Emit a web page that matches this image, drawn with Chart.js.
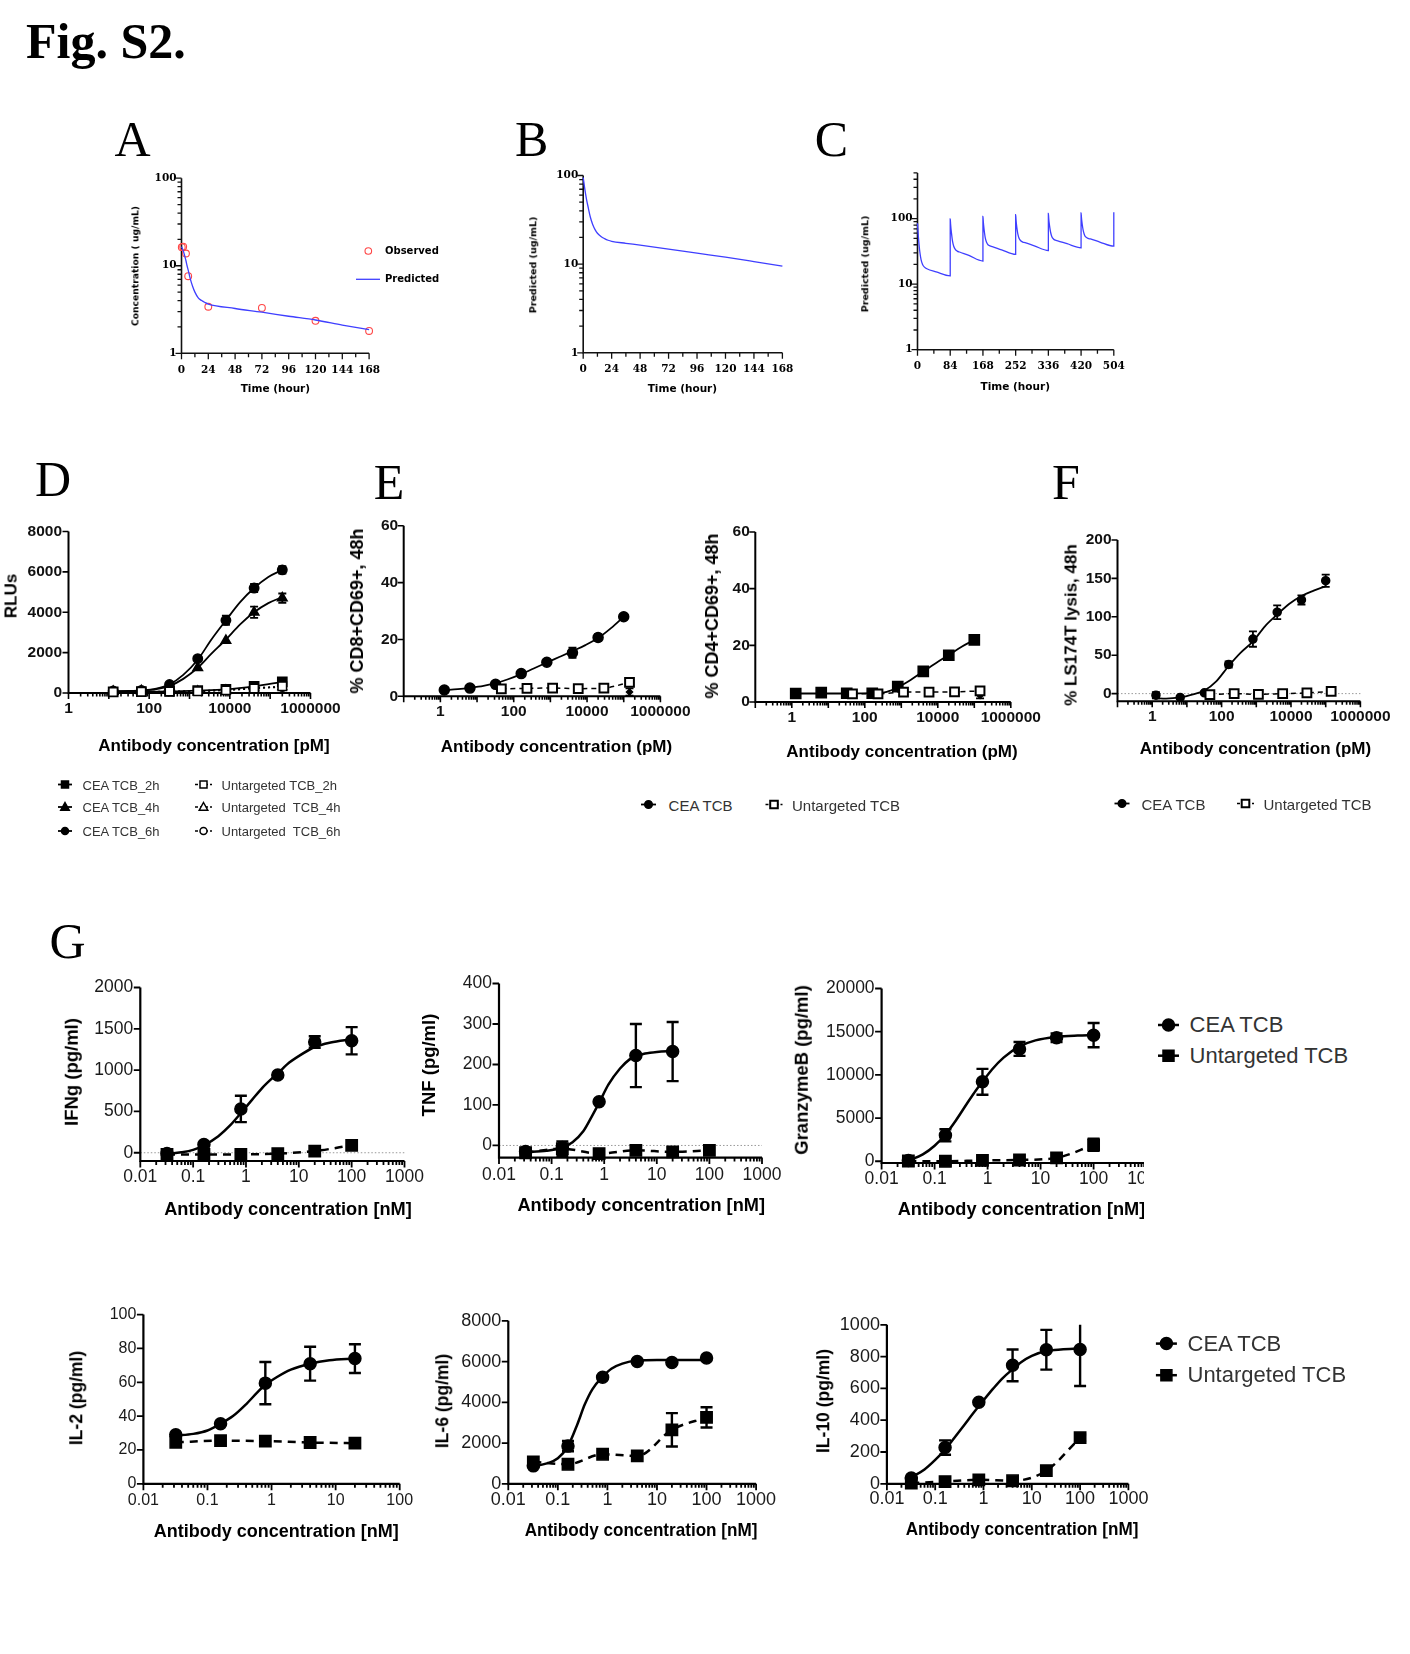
<!DOCTYPE html>
<html>
<head>
<meta charset="utf-8">
<script src="https://cdn.jsdelivr.net/npm/chart.js@4.4.1/dist/chart.umd.min.js"></script>
<style>
  html, body { margin: 0; padding: 0; background: #fff; }
  #page { position: relative; width: 1410px; height: 1654px; overflow: hidden; background: #fff; }
  .t { position: absolute; white-space: pre; line-height: 1; color: #000; }
  canvas { position: absolute; }
</style>
</head>
<body>
<div id="page"></div>
<script>
// ---------- A / B / C : PK curves ----------
const aObsHour = [0.25, 1.5, 4, 6, 24, 72, 120, 168];
const aObsConc = [16.3, 16.5, 13.8, 7.6, 3.4, 3.3, 2.35, 1.8];
const aPredHour = [0, 1, 2, 3, 4, 5, 6, 8, 10, 12, 15, 18, 21, 24, 48, 72, 96, 120, 144, 168];
const aPredConc = [16.5, 15.5, 14.2, 12.8, 11.4, 10.0, 8.9, 7.0, 5.8, 5.0, 4.3, 4.0, 3.8, 3.65, 3.25, 2.95, 2.65, 2.4, 2.1, 1.86];
const bPredHour = [0, 1, 2, 3, 4, 6, 8, 10, 12, 15, 18, 21, 24, 36, 48, 72, 96, 120, 144, 168];
const bPredConc = [95, 76, 62, 52, 45, 34, 28, 24.5, 22.3, 20.5, 19.4, 18.6, 18.1, 17.2, 16.4, 14.8, 13.3, 12.0, 10.7, 9.5];
const cPredHour = [
  0, 1, 2, 4, 6, 9, 13, 18, 24, 48, 84,
  84, 85, 86, 88, 90, 93, 97, 102, 108, 132, 168,
  168, 169, 170, 172, 174, 177, 181, 186, 192, 216, 252,
  252, 253, 254, 256, 258, 261, 265, 270, 276, 300, 336,
  336, 337, 338, 340, 342, 345, 349, 354, 360, 384, 420,
  420, 421, 422, 424, 426, 429, 433, 438, 444, 468, 504,
  504];
const cPredConc = [
  85, 68, 56, 40, 31, 24, 20, 18.2, 17.2, 15.4, 13.4,
  99, 82, 70, 55, 45, 38, 34, 32, 31, 27.5, 22.6,
  108, 90, 77, 61, 51, 44, 40, 38.5, 37.5, 33.5, 28.5,
  115, 96, 83, 67, 57, 50, 46, 44, 43, 38.5, 32.7,
  120, 100, 87, 71, 61, 53, 49, 47, 46, 41.5, 36,
  123, 103, 90, 74, 64, 56, 52, 50, 49, 44, 38,
  125];
const pkHourTicks = [0, 24, 48, 72, 96, 120, 144, 168];
const cHourTicks = [0, 84, 168, 252, 336, 420, 504];
const pkConcTicks = [1, 10, 100];

// ---------- D : reporter RLUs ----------
const dConc = [12.8, 64, 320, 1600, 8000, 40000, 200000];
const dCea2h = [60, 70, 80, 120, 180, 330, 550];
const dCea2hErr = [0, 0, 0, 0, 0, 80, 90];
const dCea4h = [80, 110, 300, 1250, 2600, 4000, 4700];
const dCea4hErr = [0, 0, 0, 0, 0, 280, 230];
const dCea6h = [100, 130, 420, 1700, 3600, 5200, 6100];
const dCea6hErr = [0, 0, 0, 0, 230, 200, 180];
const dUt2h = [50, 60, 70, 90, 130, 220, 330];
const dUt4h = [50, 60, 70, 100, 150, 250, 300];
const dUt6h = [60, 70, 80, 100, 170, 260, 280];
const dFitConc = [12.8, 30, 64, 150, 320, 700, 1600, 3500, 8000, 18000, 40000, 90000, 200000];
const dFit6h = [90, 100, 130, 220, 430, 900, 1650, 2650, 3600, 4500, 5200, 5750, 6100];
const dFit4h = [70, 85, 110, 190, 350, 700, 1250, 1950, 2650, 3400, 4000, 4450, 4750];
const pmTicks = [1, 10, 100, 1000, 10000, 100000, 1000000];
const pmLabels = ['1', '', '100', '', '10000', '', '1000000'];
const pmTicksE = [0.1, 1, 10, 100, 1000, 10000, 100000, 1000000];
const pmLabelsE = ['', '1', '', '100', '', '10000', '', '1000000'];
const dRluTicks = [0, 2000, 4000, 6000, 8000];

// ---------- E / F : activation and lysis ----------
const eConc = [1.28, 6.4, 32, 160, 800, 4000, 20000, 100000];
const eConcUt = [46, 230, 1150, 5750, 28750, 143750];
const e8Cea = [2.2, 2.9, 4.2, 8.0, 12.0, 15.3, 20.7, 28.0];
const e8CeaErr = [0, 0, 0, 0, 0, 1.8, 1.2, 0];
const e8Ut = [2.6, 2.8, 2.9, 2.7, 2.9, 4.9];
const e8FitConc = [1.28, 3, 6.4, 15, 32, 70, 160, 350, 800, 1800, 4000, 9000, 20000, 45000, 100000];
const e8Fit = [2.1, 2.5, 3.0, 3.7, 4.6, 6.0, 7.8, 9.8, 11.9, 13.9, 15.9, 18.0, 20.5, 24, 28];
const e4Cea = [3.0, 3.3, 3.1, 3.1, 5.4, 10.8, 16.5, 21.9];
const e4Ut = [2.9, 2.9, 3.5, 3.5, 3.6, 3.9];
const e4FitConc = [1.28, 6.4, 32, 160, 400, 800, 1800, 4000, 9000, 20000, 45000, 100000];
const e4Fit = [3.0, 3.0, 3.0, 3.1, 3.6, 5.2, 7.8, 10.8, 13.8, 16.6, 19.5, 21.9];
const eExtraConc = [143750];
const e8Extra = [1.5];
const e8ExtraErr = [1.3];
const e4Extra = [2.3];
const e4ExtraErr = [1.0];
const ePctTicks = [0, 20, 40, 60];
const fCea = [-2, -5, 1, 38, 71, 106, 122, 147];
const fCeaErr = [4, 2, 2, 4, 10, 9, 6, 8];
const fUt = [-1.3, 0, -0.9, 0, 0.9, 3];
const fFitConc = [1.28, 2.5, 6.4, 15, 32, 70, 160, 350, 800, 1800, 4000, 9000, 20000, 45000, 100000];
const fFit = [-6, -6.5, -5, -1, 4, 16, 36, 53, 68, 88, 103, 117, 127, 134, 140];
const fLysisTicks = [0, 50, 100, 150, 200];

// ---------- G : cytokines ----------
const gConc = [0.032, 0.16, 0.8, 4, 20, 100];
const nmTicks = [0.01, 0.1, 1, 10, 100, 1000];
const nmLabels = ['0.01', '0.1', '1', '10', '100', '1000'];
const ifngCea = [-10, 100, 530, 940, 1340, 1355];
const ifngCeaErr = [0, 0, 160, 0, 70, 165];
const ifngUt = [-20, -20, -20, -10, 20, 90];
const ifngFitConc = [0.032, 0.06, 0.1, 0.16, 0.3, 0.5, 0.8, 1.3, 2, 3, 4, 6, 10, 20, 40, 100];
const ifngFit = [-15, 5, 35, 90, 200, 330, 480, 640, 780, 890, 960, 1070, 1170, 1280, 1335, 1375];
const ifngTicks = [0, 500, 1000, 1500, 2000];
const tnfCea = [-15, -5, 108, 222, 232];
const tnfCeaErr = [0, 0, 0, 78, 73];
const tnfUt = [-18, -8, -20, -12, -16, -12];
const tnfUtErr = [0, 18, 0, 0, 0, 0];
const tnfFitConc = [0.032, 0.08, 0.16, 0.25, 0.4, 0.6, 0.8, 1.2, 2, 3, 4, 6, 10, 20];
const tnfFit = [-16, -13, -5, 8, 35, 75, 105, 150, 190, 212, 220, 227, 231, 233];
const tnfTicks = [0, 100, 200, 300, 400];
const gzbCea = [100, 3000, 9200, 13000, 14300, 14600];
const gzbCeaErr = [0, 700, 1500, 800, 500, 1400];
const gzbUt = [30, 0, 100, 150, 400, 1900];
const gzbUtErr = [0, 0, 0, 0, 0, 700];
const gzbFitConc = [0.032, 0.06, 0.1, 0.16, 0.25, 0.4, 0.6, 0.8, 1.2, 2, 4, 8, 20, 50, 100];
const gzbFit = [80, 800, 1800, 3100, 4700, 6600, 8200, 9200, 10600, 12000, 13300, 14000, 14400, 14550, 14600];
const gzbTicks = [0, 5000, 10000, 15000, 20000];
const il2Cea = [29, 35.5, 59.5, 71, 74];
const il2CeaErr = [0, 0, 12.5, 10, 8.5];
const il2Ut = [24.5, 25.5, 25.2, 24.4, 24];
const il2FitConc = [0.032, 0.06, 0.1, 0.16, 0.25, 0.4, 0.6, 0.8, 1.2, 2, 4, 8, 20];
const il2Fit = [28.5, 29.5, 31.5, 35.5, 40, 47, 54, 58.5, 63, 67.5, 71, 73, 74];
const il2Ticks = [0, 20, 40, 60, 80, 100];
const il6Cea = [880, 1850, 5230, 6000, 5950, 6170];
const il6CeaErr = [0, 250, 0, 0, 0, 0];
const il6Ut = [1080, 960, 1450, 1370, 2650, 3260];
const il6UtErr = [0, 0, 0, 0, 820, 500];
const il6FitConc = [0.032, 0.06, 0.1, 0.16, 0.25, 0.35, 0.5, 0.8, 1.2, 2, 4, 10, 20, 100];
const il6Fit = [860, 1000, 1250, 1850, 2950, 3900, 4650, 5250, 5650, 5900, 6050, 6080, 6080, 6080];
const il6Ticks = [0, 2000, 4000, 6000, 8000];
const il10Cea = [37, 228, 513, 745, 843, 845];
const il10CeaErr = [0, 45, 0, 100, 125, 230];
const il10Ut = [5, 14, 25, 19, 83, 290];
const il10UtErr = [0, 0, 0, 0, 0, 20];
const il10FitConc = [0.032, 0.06, 0.1, 0.16, 0.25, 0.4, 0.6, 1, 1.6, 2.5, 4, 6, 10, 20, 40, 100];
const il10Fit = [40, 90, 150, 215, 290, 370, 440, 525, 600, 665, 720, 765, 805, 835, 845, 850];
const il10Ticks = [0, 200, 400, 600, 800, 1000];

// ---------- helpers ----------
const page = document.getElementById('page');
const SANS = "'Liberation Sans', Arial, sans-serif";
const NARROW = "'Liberation Sans Narrow', 'Liberation Sans', Arial, sans-serif";
const SERIF = "'Liberation Serif', 'Times New Roman', serif";
const VSANS = "'DejaVu Sans', Verdana, sans-serif";

function txt(s, x, y, font, opt = {}) {
  const d = document.createElement('div');
  d.className = 't';
  d.textContent = s;
  d.style.font = font;
  d.style.left = x + 'px';
  d.style.top = y + 'px';
  let tf = opt.left ? 'translate(0,-50%)' : 'translate(-50%,-50%)';
  if (opt.rot) tf += ' rotate(-90deg)';
  if (opt.sx) tf += ' scaleX(' + opt.sx + ')';
  d.style.transform = tf;
  if (opt.color) d.style.color = opt.color;
  (opt.parent || page).appendChild(d);
}

function legendMark(cx, cy, w, o) {
  const c = document.createElement('canvas');
  const W = Math.ceil(w) + 20, H = 26;
  const left = Math.round(cx - W / 2), top = Math.round(cy - H / 2);
  c.width = W; c.height = H;
  c.style.left = left + 'px'; c.style.top = top + 'px';
  page.appendChild(c);
  const g = c.getContext('2d');
  const x0 = cx - left, y0 = cy - top;
  const col = o.color || '#000';
  if (o.line) {
    g.strokeStyle = col; g.lineWidth = o.lw || 2;
    g.setLineDash(o.dash || []);
    g.beginPath(); g.moveTo(x0 - w / 2, y0); g.lineTo(x0 + w / 2, y0); g.stroke();
    g.setLineDash([]);
  }
  if (!o.shape) return;
  g.strokeStyle = col; g.lineWidth = o.mlw || 1.5;
  g.fillStyle = o.filled ? col : '#fff';
  g.beginPath();
  const r = o.r;
  if (o.shape === 'circle') g.arc(x0, y0, r, 0, Math.PI * 2);
  else if (o.shape === 'square') g.rect(x0 - r, y0 - r, 2 * r, 2 * r);
  else if (o.shape === 'triangle') { g.moveTo(x0, y0 - r); g.lineTo(x0 + r * 0.95, y0 + r * 0.7); g.lineTo(x0 - r * 0.95, y0 + r * 0.7); g.closePath(); }
  g.fill();
  g.stroke();
}

function minorVals(s, step) {
  const out = [];
  if (s.type === 'logarithmic') {
    const lo = Math.floor(Math.log10(s.min) + 1e-9), hi = Math.ceil(Math.log10(s.max) - 1e-9);
    for (let k = lo; k < hi; k++) {
      for (let m = 2; m <= 9; m++) {
        const v = m * Math.pow(10, k);
        if (v > s.min * 1.0001 && v <= s.max * 1.0001) out.push(v);
      }
    }
  } else if (step) {
    for (let v = s.min; v <= s.max + 1e-9; v += step) out.push(v);
  }
  return out;
}

// axes, tick marks, zero line and error bars in the GraphPad manner
const gpAxes = {
  id: 'gpAxes',
  beforeDatasetsDraw(chart, args, o) {
    const { ctx, chartArea: a } = chart;
    const xs = chart.scales.x, ys = chart.scales.y;
    ctx.save();
    if (o.zero) {
      const py = ys.getPixelForValue(0);
      ctx.strokeStyle = '#9a9a9a'; ctx.lineWidth = 1; ctx.setLineDash([1.5, 2]);
      ctx.beginPath(); ctx.moveTo(a.left, py); ctx.lineTo(a.right, py); ctx.stroke();
      ctx.setLineDash([]);
    }
    ctx.strokeStyle = o.color || '#000';
    ctx.lineWidth = o.lw;
    ctx.beginPath();
    ctx.moveTo(a.left, a.top); ctx.lineTo(a.left, a.bottom); ctx.lineTo(a.right, a.bottom);
    ctx.stroke();
    ctx.lineWidth = o.tw || o.lw;
    ctx.beginPath();
    xs.ticks.forEach(t => { const p = xs.getPixelForValue(t.value); ctx.moveTo(p, a.bottom); ctx.lineTo(p, a.bottom + o.major); });
    minorVals(xs, o.xMinor).forEach(v => { const p = xs.getPixelForValue(v); ctx.moveTo(p, a.bottom); ctx.lineTo(p, a.bottom + o.minor); });
    ys.ticks.forEach(t => { const p = ys.getPixelForValue(t.value); ctx.moveTo(a.left, p); ctx.lineTo(a.left - o.major, p); });
    minorVals(ys, o.yMinor).forEach(v => { const p = ys.getPixelForValue(v); ctx.moveTo(a.left, p); ctx.lineTo(a.left - o.minor, p); });
    ctx.stroke();
    // error bars, clipped at the top of the plot like the original
    ctx.lineWidth = o.ew || 2;
    ctx.beginPath();
    chart.data.datasets.forEach((ds, i) => {
      if (!ds.errs) return;
      const meta = chart.getDatasetMeta(i);
      meta.data.forEach((pt, j) => {
        const e = ds.errs[j];
        if (!e) return;
        const v = ds.data[j].y;
        let top = ys.getPixelForValue(v + e);
        const bot = ys.getPixelForValue(v - e);
        const c = o.cap || 4;
        const clipped = top < a.top;
        if (clipped) top = a.top;
        ctx.moveTo(pt.x, top); ctx.lineTo(pt.x, bot);
        if (!clipped) { ctx.moveTo(pt.x - c, top); ctx.lineTo(pt.x + c, top); }
        ctx.moveTo(pt.x - c, bot); ctx.lineTo(pt.x + c, bot);
      });
    });
    ctx.stroke();
    ctx.restore();
  }
};

const xy = (xs, ys) => xs.map((v, i) => ({ x: v, y: ys[i] }));

function fitLine(xs, ys, w, color) {
  return {
    data: xy(xs, ys), showLine: true, pointRadius: 0, pointHoverRadius: 0,
    borderColor: color || '#000', borderWidth: w, cubicInterpolationMode: 'monotone', clip: false, fill: false
  };
}

function marks(xs, ys, style, r, filled, o = {}) {
  return {
    data: xy(xs, ys), showLine: !!o.line, borderDash: o.dash || [], borderColor: o.color || '#000',
    borderWidth: o.lw || 2, cubicInterpolationMode: 'monotone', tension: 0,
    pointStyle: style, pointRadius: r, pointHoverRadius: r,
    pointBackgroundColor: filled ? (o.color || '#000') : (o.hollow || '#fff'),
    pointBorderColor: o.pcolor || o.color || '#000', pointBorderWidth: o.pbw || 1.5,
    errs: o.errs, clip: false, fill: false
  };
}

function panel(box, cfg) {
  const cL = Math.floor(box.l) - 80, cT = Math.floor(box.t) - 16;
  const yW = box.l - cL, padTop = box.t - cT;
  const W = Math.ceil(box.r - cL) + 48, H = Math.ceil(box.b - cT) + 48;
  const padRight = W - (box.r - cL), xH = H - (box.b - cT);
  const cv = document.createElement('canvas');
  cv.width = W; cv.height = H;
  cv.style.left = cL + 'px'; cv.style.top = cT + 'px';
  (cfg.parent || page).appendChild(cv);
  const mkAxis = (ax, isX) => ({
    type: ax.type, min: ax.min, max: ax.max, bounds: 'data', position: isX ? 'bottom' : 'left',
    grid: { display: false, drawTicks: false }, border: { display: false },
    ticks: {
      font: cfg.font, color: cfg.tickColor || '#111', padding: ax.pad,
      autoSkip: false, maxRotation: 0, minRotation: 0,
      callback: (v, i) => ax.labels[i]
    },
    afterBuildTicks: s => { s.ticks = ax.ticks.map(v => ({ value: v })); },
    afterFit: s => { if (isX) s.height = xH; else s.width = yW; }
  });
  new Chart(cv, {
    type: 'line',
    data: { datasets: cfg.datasets },
    options: {
      responsive: false, animation: false, events: [],
      layout: { padding: { left: 0, top: padTop, right: padRight, bottom: 0 } },
      scales: { x: mkAxis(cfg.x, true), y: mkAxis(cfg.y, false) },
      plugins: { legend: { display: false }, tooltip: { enabled: false }, gpAxes: cfg.axes }
    },
    plugins: [gpAxes]
  });
}

const str = a => a.map(String);

// ---------- page titles ----------
txt('Fig. S2.', 26, 41, `bold 50px/1 ${SERIF}`, { left: true });
const LET = `50px/1 ${SERIF}`;
txt('A', 132.5, 138.5, LET);
txt('B', 531.7, 138.5, LET);
txt('C', 831.5, 138.5, LET);
txt('D', 53, 479, LET);
txt('E', 389, 481.5, LET);
txt('F', 1066, 481.5, LET);
txt('G', 67.5, 941, LET);

// ---------- A ----------
const BLUE = '#3f3fff';
const acFont = { family: "'DejaVu Serif', Georgia, serif", weight: 'bold', size: 10.5 };
const acAxes = { lw: 1.6, tw: 1.3, major: 6, minor: 4, color: '#111' };
panel({ l: 181.5, r: 369.1, t: 178.2, b: 353.3 }, {
  font: acFont, tickColor: '#000',
  x: { type: 'linear', min: 0, max: 168, ticks: pkHourTicks, labels: str(pkHourTicks), pad: 10.6 },
  y: { type: 'logarithmic', min: 1, max: 100, ticks: pkConcTicks, labels: str(pkConcTicks), pad: 5 },
  axes: Object.assign({ xMinor: 12 }, acAxes),
  datasets: [
    fitLine(aPredHour, aPredConc, 1.3, BLUE),
    marks(aObsHour, aObsConc, 'circle', 3.4, false, { color: '#ff4646', hollow: 'rgba(0,0,0,0)', pbw: 1.1 })
  ]
});
txt('Time (hour)', 275.4, 388.2, `bold 10.5px/1 ${VSANS}`);
txt('Concentration ( ug/mL)', 134.5, 266, `bold 9.2px/1 ${VSANS}`, { rot: true });
legendMark(368.3, 251, 0, { shape: 'circle', r: 3.3, color: '#ff4646', mlw: 1.1 });
txt('Observed', 385, 251, `bold 10px/1 ${VSANS}`, { left: true });
legendMark(368, 279.3, 24, { line: true, lw: 1.3, color: BLUE });
txt('Predicted', 385, 279.3, `bold 10px/1 ${VSANS}`, { left: true });

// ---------- B ----------
panel({ l: 583.2, r: 782.4, t: 175.5, b: 352.8 }, {
  font: acFont, tickColor: '#000',
  x: { type: 'linear', min: 0, max: 168, ticks: pkHourTicks, labels: str(pkHourTicks), pad: 10.1 },
  y: { type: 'logarithmic', min: 1, max: 100, ticks: pkConcTicks, labels: str(pkConcTicks), pad: 5 },
  axes: Object.assign({ xMinor: 12 }, acAxes),
  datasets: [fitLine(bPredHour, bPredConc, 1.3, BLUE)]
});
txt('Time (hour)', 682.4, 388.2, `bold 10.5px/1 ${VSANS}`);
txt('Predicted (ug/mL)', 532.5, 264.5, `bold 9.5px/1 ${VSANS}`, { rot: true });

// ---------- C ----------
panel({ l: 917.5, r: 1113.8, t: 172.9, b: 349.7 }, {
  font: acFont, tickColor: '#000',
  x: { type: 'linear', min: 0, max: 504, ticks: cHourTicks, labels: str(cHourTicks), pad: 10.3 },
  y: { type: 'logarithmic', min: 1, max: 500, ticks: pkConcTicks, labels: str(pkConcTicks), pad: 5 },
  axes: Object.assign({ xMinor: 42 }, acAxes),
  datasets: [fitLine(cPredHour, cPredConc, 1.3, BLUE)]
});
txt('Time (hour)', 1015.3, 385.5, `bold 10.5px/1 ${VSANS}`);
txt('Predicted (ug/mL)', 865, 264, `bold 9.5px/1 ${VSANS}`, { rot: true });

// ---------- D ----------
const dfFont = { family: SANS, weight: 'bold', size: 15.5 };
const dfAxes = { lw: 2, tw: 1.6, major: 6, minor: 3.5, ew: 1.8, cap: 4 };
panel({ l: 68.5, r: 310.5, t: 531.5, b: 693 }, {
  font: dfFont,
  x: { type: 'logarithmic', min: 1, max: 1000000, ticks: pmTicks, labels: pmLabels, pad: 6.4 },
  y: { type: 'linear', min: 0, max: 8000, ticks: dRluTicks, labels: str(dRluTicks), pad: 6.5 },
  axes: dfAxes,
  datasets: [
    marks(dConc, dUt2h, 'rect', 6, false, { line: true, dash: [2, 3], lw: 1.5 }),
    marks(dConc, dUt4h, 'triangle', 5, false, { line: true, dash: [2, 3], lw: 1.5 }),
    marks(dConc, dUt6h, 'circle', 4, false, { line: true, dash: [2, 3], lw: 1.5 }),
    fitLine(dFitConc, dFit6h, 1.8),
    fitLine(dFitConc, dFit4h, 1.8),
    marks(dConc, dCea2h, 'rect', 6.5, true, { line: true, lw: 1.8, errs: dCea2hErr }),
    marks(dConc, dCea4h, 'triangle', 5.5, true, { errs: dCea4hErr }),
    marks(dConc, dCea6h, 'circle', 4.7, true, { errs: dCea6hErr })
  ]
});
txt('Antibody concentration [pM]', 214, 745, `bold 17px/1 ${SANS}`);
txt('RLUs', 10.5, 596, `bold 17px/1 ${SANS}`, { rot: true });
const dLeg = `13px/1 ${SANS}`;
const dRows = [784.5, 807, 831];
legendMark(65, dRows[0], 14, { line: true, lw: 1.8, shape: 'square', r: 3.5, filled: true });
legendMark(65, dRows[1], 14, { line: true, lw: 1.8, shape: 'triangle', r: 4.5, filled: true });
legendMark(65, dRows[2], 14, { line: true, lw: 1.8, shape: 'circle', r: 3.5, filled: true });
txt('CEA TCB_2h', 82.5, dRows[0], dLeg, { left: true, color: '#333' });
txt('CEA TCB_4h', 82.5, dRows[1], dLeg, { left: true, color: '#333' });
txt('CEA TCB_6h', 82.5, dRows[2], dLeg, { left: true, color: '#333' });
legendMark(203.5, dRows[0], 17, { line: true, lw: 1.5, dash: [3, 2], shape: 'square', r: 3.5 });
legendMark(203.5, dRows[1], 17, { line: true, lw: 1.5, dash: [3, 2], shape: 'triangle', r: 4.5 });
legendMark(203.5, dRows[2], 17, { line: true, lw: 1.5, dash: [3, 2], shape: 'circle', r: 3.5 });
txt('Untargeted TCB_2h', 221.5, dRows[0], dLeg, { left: true, color: '#333' });
txt('Untargeted  TCB_4h', 221.5, dRows[1], dLeg, { left: true, color: '#333' });
txt('Untargeted  TCB_6h', 221.5, dRows[2], dLeg, { left: true, color: '#333' });

// ---------- E : CD8 ----------
panel({ l: 403.7, r: 660.4, t: 525.8, b: 696.3 }, {
  font: dfFont,
  x: { type: 'logarithmic', min: 0.1, max: 1000000, ticks: pmTicksE, labels: pmLabelsE, pad: 6.3 },
  y: { type: 'linear', min: 0, max: 60, ticks: ePctTicks, labels: str(ePctTicks), pad: 5.5 },
  axes: dfAxes,
  datasets: [
    marks(eConcUt, e8Ut, 'rect', 6.2, false, { line: true, dash: [5, 4], lw: 1.5, pbw: 2 }),
    marks(eExtraConc, e8Extra, 'rectRot', 3, true, { errs: e8ExtraErr }),
    fitLine(e8FitConc, e8Fit, 1.8),
    marks(eConc, e8Cea, 'circle', 5, true, { errs: e8CeaErr })
  ]
});
txt('Antibody concentration (pM)', 556.5, 745.5, `bold 17px/1 ${SANS}`);
txt('% CD8+CD69+, 48h', 357, 611, `bold 18px/1 ${SANS}`, { rot: true });

// ---------- E : CD4 ----------
panel({ l: 755.3, r: 1010.8, t: 532, b: 702 }, {
  font: dfFont,
  x: { type: 'logarithmic', min: 0.1, max: 1000000, ticks: pmTicksE, labels: pmLabelsE, pad: 6.9 },
  y: { type: 'linear', min: 0, max: 60, ticks: ePctTicks, labels: str(ePctTicks), pad: 5.5 },
  axes: dfAxes,
  datasets: [
    marks(eConcUt, e4Ut, 'rect', 6.2, false, { line: true, dash: [5, 4], lw: 1.5, pbw: 2 }),
    marks(eExtraConc, e4Extra, 'rectRot', 3, true, { errs: e4ExtraErr }),
    fitLine(e4FitConc, e4Fit, 1.8),
    marks(eConc, e4Cea, 'rect', 7.2, true)
  ]
});
txt('Antibody concentration (pM)', 902, 751, `bold 17px/1 ${SANS}`);
txt('% CD4+CD69+, 48h', 712, 615.5, `bold 18px/1 ${SANS}`, { rot: true });
const efLeg = `15px/1 ${SANS}`;
legendMark(648.5, 804.5, 15, { line: true, lw: 1.8, shape: 'circle', r: 3.8, filled: true });
txt('CEA TCB', 668.6, 804.5, efLeg, { left: true, color: '#333' });
legendMark(774, 804.5, 17, { line: true, lw: 1.5, dash: [3, 2], shape: 'square', r: 3.8, mlw: 2 });
txt('Untargeted TCB', 792, 804.5, efLeg, { left: true, color: '#333' });

// ---------- F ----------
panel({ l: 1117.5, r: 1360.4, t: 540, b: 701.3 }, {
  font: dfFont,
  x: { type: 'logarithmic', min: 0.1, max: 1000000, ticks: pmTicksE, labels: pmLabelsE, pad: 5.7 },
  y: { type: 'linear', min: -10, max: 200, ticks: fLysisTicks, labels: str(fLysisTicks), pad: 6 },
  axes: Object.assign({ zero: true }, dfAxes),
  datasets: [
    marks(eConcUt, fUt, 'rect', 6.2, false, { line: true, dash: [5, 4], lw: 1.5, pbw: 2 }),
    fitLine(fFitConc, fFit, 1.8),
    marks(eConc, fCea, 'circle', 4, true, { errs: fCeaErr })
  ]
});
txt('Antibody concentration (pM)', 1255.5, 748, `bold 17px/1 ${SANS}`);
txt('% LS174T lysis, 48h', 1071, 625, `bold 17px/1 ${SANS}`, { rot: true });
legendMark(1122, 803.5, 15, { line: true, lw: 1.8, shape: 'circle', r: 3.8, filled: true });
txt('CEA TCB', 1141.5, 803.5, efLeg, { left: true, color: '#333' });
legendMark(1245.5, 803.5, 17, { line: true, lw: 1.5, dash: [3, 2], shape: 'square', r: 3.8, mlw: 2 });
txt('Untargeted TCB', 1263.5, 803.5, efLeg, { left: true, color: '#333' });

// ---------- G ----------
const g1Font = { family: SANS, size: 17.5 };
const gAxes = { lw: 2.2, tw: 1.8, major: 6.5, minor: 4, ew: 2.4, cap: 6 };
const gUtStyle = { line: true, dash: [8, 6], lw: 2.5 };
const nmLabels100 = nmLabels.slice(0, 5);

panel({ l: 140.3, r: 404.5, t: 986, b: 1161 }, {
  font: g1Font, tickColor: '#1a1a1a',
  x: { type: 'logarithmic', min: 0.01, max: 1000, ticks: nmTicks, labels: nmLabels, pad: 5.8 },
  y: { type: 'linear', min: -100, max: 2000, ticks: ifngTicks, labels: str(ifngTicks), pad: 7 },
  axes: Object.assign({ zero: true }, gAxes),
  datasets: [
    marks(gConc, ifngUt, 'rect', 8, true, gUtStyle),
    fitLine(ifngFitConc, ifngFit, 2.5),
    marks(gConc, ifngCea, 'circle', 6, true, { errs: ifngCeaErr })
  ]
});
txt('Antibody concentration [nM]', 288, 1208.5, `bold 18.2px/1 ${SANS}`);
txt('IFNg (pg/ml)', 71.7, 1072, `bold 18.5px/1 ${SANS}`, { rot: true });

panel({ l: 499, r: 762, t: 982, b: 1157.6 }, {
  font: g1Font, tickColor: '#1a1a1a',
  x: { type: 'logarithmic', min: 0.01, max: 1000, ticks: nmTicks, labels: nmLabels, pad: 7.4 },
  y: { type: 'linear', min: -30, max: 400, ticks: tnfTicks, labels: str(tnfTicks), pad: 7 },
  axes: Object.assign({ zero: true }, gAxes),
  datasets: [
    marks(gConc, tnfUt, 'rect', 8, true, Object.assign({ errs: tnfUtErr }, gUtStyle)),
    fitLine(tnfFitConc, tnfFit, 2.5),
    marks(gConc.slice(0, 5), tnfCea, 'circle', 6, true, { errs: tnfCeaErr })
  ]
});
txt('Antibody concentration [nM]', 641.2, 1205, `bold 18.2px/1 ${SANS}`);
txt('TNF (pg/ml)', 429, 1065, `bold 18.5px/1 ${SANS}`, { rot: true });

// GranzymeB panel is cropped on its right side in the original figure
const gzbClip = document.createElement('div');
gzbClip.style.cssText = 'position:absolute;left:0;top:0;width:1144px;height:1654px;overflow:hidden;';
page.appendChild(gzbClip);
panel({ l: 881.6, r: 1146.6, t: 987.1, b: 1163 }, {
  parent: gzbClip,
  font: g1Font, tickColor: '#1a1a1a',
  x: { type: 'logarithmic', min: 0.01, max: 1000, ticks: nmTicks, labels: nmLabels, pad: 5.5 },
  y: { type: 'linear', min: -200, max: 20000, ticks: gzbTicks, labels: str(gzbTicks), pad: 7 },
  axes: gAxes,
  datasets: [
    marks(gConc, gzbUt, 'rect', 8, true, Object.assign({ errs: gzbUtErr }, gUtStyle)),
    fitLine(gzbFitConc, gzbFit, 2.5),
    marks(gConc, gzbCea, 'circle', 6, true, { errs: gzbCeaErr })
  ]
});
txt('Antibody concentration [nM]', 1021.5, 1208.6, `bold 18.2px/1 ${SANS}`, { parent: gzbClip });
txt('GranzymeB (pg/ml)', 801.5, 1070.4, `bold 18.5px/1 ${SANS}`, { rot: true });

const gLeg = `22px/1 ${SANS}`;
legendMark(1168.5, 1025, 21, { line: true, lw: 2.5, shape: 'circle', r: 6, filled: true });
txt('CEA TCB', 1189.6, 1025, gLeg, { left: true, color: '#333' });
legendMark(1168.5, 1055.7, 21, { line: true, lw: 2.5, shape: 'square', r: 5.5, filled: true });
txt('Untargeted TCB', 1189.6, 1055.7, gLeg, { left: true, color: '#333' });

panel({ l: 143.4, r: 399.7, t: 1314, b: 1483.8 }, {
  font: { family: SANS, size: 16 }, tickColor: '#1a1a1a',
  x: { type: 'logarithmic', min: 0.01, max: 100, ticks: nmTicks.slice(0, 5), labels: nmLabels100, pad: 7.3 },
  y: { type: 'linear', min: 0, max: 100, ticks: il2Ticks, labels: str(il2Ticks), pad: 7 },
  axes: gAxes,
  datasets: [
    marks(gConc.slice(0, 5), il2Ut, 'rect', 8, true, gUtStyle),
    fitLine(il2FitConc, il2Fit, 2.5),
    marks(gConc.slice(0, 5), il2Cea, 'circle', 6, true, { errs: il2CeaErr })
  ]
});
txt('Antibody concentration [nM]', 276.3, 1531.3, `bold 18px/1 ${SANS}`);
txt('IL-2 (pg/ml)', 77, 1398.4, `bold 17.5px/1 ${SANS}`, { rot: true });

const narrowFont = { family: NARROW, size: 18 };
panel({ l: 508.3, r: 756.1, t: 1319.3, b: 1483.8 }, {
  font: narrowFont, tickColor: '#1a1a1a',
  x: { type: 'logarithmic', min: 0.01, max: 1000, ticks: nmTicks, labels: nmLabels, pad: 5 },
  y: { type: 'linear', min: 0, max: 8000, ticks: il6Ticks, labels: str(il6Ticks), pad: 7 },
  axes: gAxes,
  datasets: [
    marks(gConc, il6Ut, 'rect', 8, true, Object.assign({ errs: il6UtErr }, gUtStyle)),
    fitLine(il6FitConc, il6Fit, 2.5),
    marks(gConc, il6Cea, 'circle', 6, true, { errs: il6CeaErr })
  ]
});
txt('Antibody concentration [nM]', 641.2, 1529.2, `bold 19px/1 ${SANS}`, { sx: 0.9 });
txt('IL-6 (pg/ml)', 443, 1400.5, `bold 17.5px/1 ${SANS}`, { rot: true });

panel({ l: 886.9, r: 1128.4, t: 1323.5, b: 1483.8 }, {
  font: narrowFont, tickColor: '#1a1a1a',
  x: { type: 'logarithmic', min: 0.01, max: 1000, ticks: nmTicks, labels: nmLabels, pad: 4 },
  y: { type: 'linear', min: 0, max: 1000, ticks: il10Ticks, labels: str(il10Ticks), pad: 7 },
  axes: gAxes,
  datasets: [
    marks(gConc, il10Ut, 'rect', 8, true, Object.assign({ errs: il10UtErr }, gUtStyle)),
    fitLine(il10FitConc, il10Fit, 2.5),
    marks(gConc, il10Cea, 'circle', 6, true, { errs: il10CeaErr })
  ]
});
txt('Antibody concentration [nM]', 1021.9, 1528, `bold 19px/1 ${SANS}`, { sx: 0.9 });
txt('IL-10 (pg/ml)', 823.6, 1400.5, `bold 17.5px/1 ${SANS}`, { rot: true });

legendMark(1166.4, 1343.6, 21, { line: true, lw: 2.5, shape: 'circle', r: 6, filled: true });
txt('CEA TCB', 1187.5, 1343.6, gLeg, { left: true, color: '#333' });
legendMark(1166.4, 1375.2, 21, { line: true, lw: 2.5, shape: 'square', r: 5.5, filled: true });
txt('Untargeted TCB', 1187.5, 1375.2, gLeg, { left: true, color: '#333' });
</script>
</body>
</html>
